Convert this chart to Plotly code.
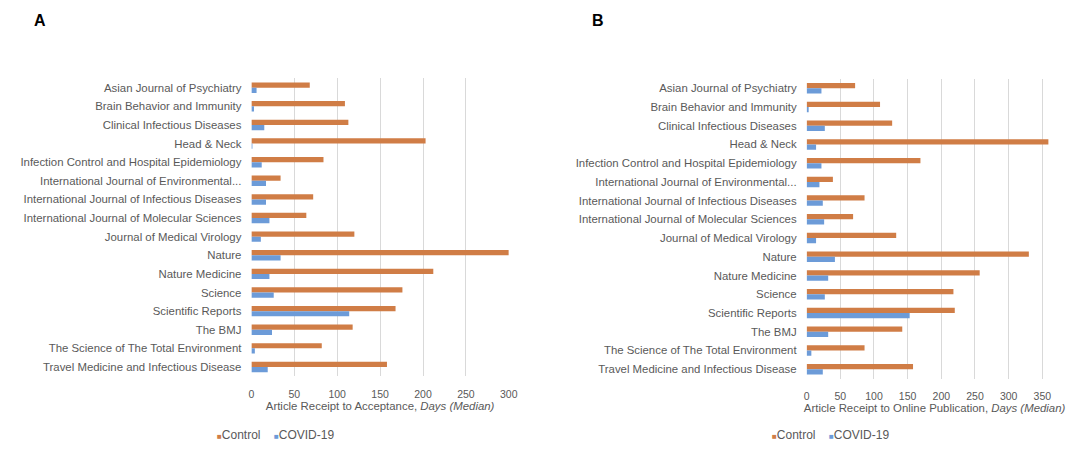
import plotly.graph_objects as go

journals = [
    "Asian Journal of Psychiatry",
    "Brain Behavior and Immunity",
    "Clinical Infectious Diseases",
    "Head & Neck",
    "Infection Control and Hospital Epidemiology",
    "International Journal of Environmental...",
    "International Journal of Infectious Diseases",
    "International Journal of Molecular Sciences",
    "Journal of Medical Virology",
    "Nature",
    "Nature Medicine",
    "Science",
    "Scientific Reports",
    "The BMJ",
    "The Science of The Total Environment",
    "Travel Medicine and Infectious Disease",
]

# Panel A: receipt to acceptance (days, median)
a_control = [68, 109, 113, 203, 84, 34, 72, 64, 120, 300, 212, 176, 168, 118, 82, 158]
a_covid = [6, 3, 15, 1, 12, 17, 17, 21, 11, 34, 21, 26, 114, 24, 4, 19]

# Panel B: receipt to online publication (days, median)
b_control = [72, 109, 127, 359, 169, 39, 86, 69, 133, 330, 257, 218, 220, 142, 86, 158]
b_covid = [22, 3, 27, 14, 22, 19, 24, 26, 14, 42, 32, 27, 153, 32, 7, 24]

series_names = ["Control", "COVID-19"]
tick_a = [0, 50, 100, 150, 200, 250, 300]
tick_b = [0, 50, 100, 150, 200, 250, 300, 350]

C_CONTROL = "#D07D46"
C_COVID = "#6C9BD8"
GRAY = "#595959"
FONT = "Liberation Sans, Arial, sans-serif"

# page has an 8px body margin; small horizontal scale correction of the capture
W, H = 1064, 435
KX = 0.9926


def px(X):
    return min(1.0, (X / KX - 8) / W)


def py(Y):
    return 1 - (Y - 8) / H


fig = go.Figure()

for vals, name, col in [(a_control, series_names[0], C_CONTROL), (a_covid, series_names[1], C_COVID)]:
    fig.add_trace(go.Bar(x=vals, y=journals, orientation="h", name=name,
                         marker=dict(color=col, line=dict(width=0)),
                         xaxis="x", yaxis="y", showlegend=False))
for vals, name, col in [(b_control, series_names[0], C_CONTROL), (b_covid, series_names[1], C_COVID)]:
    fig.add_trace(go.Bar(x=vals, y=journals, orientation="h", name=name,
                         marker=dict(color=col, line=dict(width=0)),
                         xaxis="x2", yaxis="y2", showlegend=False))

common_x = dict(showgrid=True, gridcolor="#D9D9D9", gridwidth=1, zeroline=False,
                showline=False, ticks="outside", ticklen=8, tickcolor="rgba(0,0,0,0)",
                tickfont=dict(size=10.5, color=GRAY, family=FONT))
common_y = dict(autorange="reversed", showgrid=False, zeroline=False, showline=False,
                ticks="", ticklabelstandoff=9,
                tickfont=dict(size=11.4, color=GRAY, family=FONT))


def legend_text():
    sq = "<span style='font-size:8px;color:{}'>■</span>"
    return (sq.format(C_CONTROL) + series_names[0] + "    " +
            sq.format(C_COVID) + series_names[1])


B0 = 806.7
BPX = 0.676
B_MAX = 380

fig.update_layout(
    width=W, height=H,
    margin=dict(l=0, r=0, t=0, b=0),
    paper_bgcolor="white", plot_bgcolor="white",
    font=dict(family=FONT, color=GRAY),
    barmode="group", bargap=0.44, bargroupgap=0,
    showlegend=False,
    xaxis=dict(domain=[px(249.3), px(249.3 + 300 * 0.8613)], range=[0, 300], tickvals=tick_a,
               title=dict(text="Article Receipt to Acceptance, <i>Days (Median)</i>",
                          font=dict(size=11.4, color=GRAY, family=FONT), standoff=1),
               anchor="y", **common_x),
    yaxis=dict(domain=[py(376.3), py(78.4)], anchor="x", **common_y),
    xaxis2=dict(domain=[px(B0), px(B0 + B_MAX * BPX)], range=[0, B_MAX], tickvals=tick_b,
                title=dict(text="Article Receipt to Online Publication, <i>Days (Median)</i>",
                           font=dict(size=11.4, color=GRAY, family=FONT), standoff=1),
                anchor="y2", **common_x),
    yaxis2=dict(domain=[py(378.5), py(78.9)], anchor="x2", **common_y),
    annotations=[
        dict(text="<b>A</b>", x=px(37), y=py(20), xref="paper", yref="paper",
             xanchor="center", yanchor="middle",
             showarrow=False, font=dict(size=16, color="black", family=FONT)),
        dict(text="<b>B</b>", x=px(597), y=py(20), xref="paper", yref="paper",
             xanchor="center", yanchor="middle",
             showarrow=False, font=dict(size=16, color="black", family=FONT)),
        dict(text=legend_text(), x=px(213), y=py(435), xref="paper", yref="paper",
             xanchor="left", yanchor="middle", showarrow=False,
             font=dict(size=12, color=GRAY, family=FONT)),
        dict(text=legend_text(), x=px(770), y=py(435), xref="paper", yref="paper",
             xanchor="left", yanchor="middle", showarrow=False,
             font=dict(size=12, color=GRAY, family=FONT)),
    ],
)

fig.write_html("out.html")
